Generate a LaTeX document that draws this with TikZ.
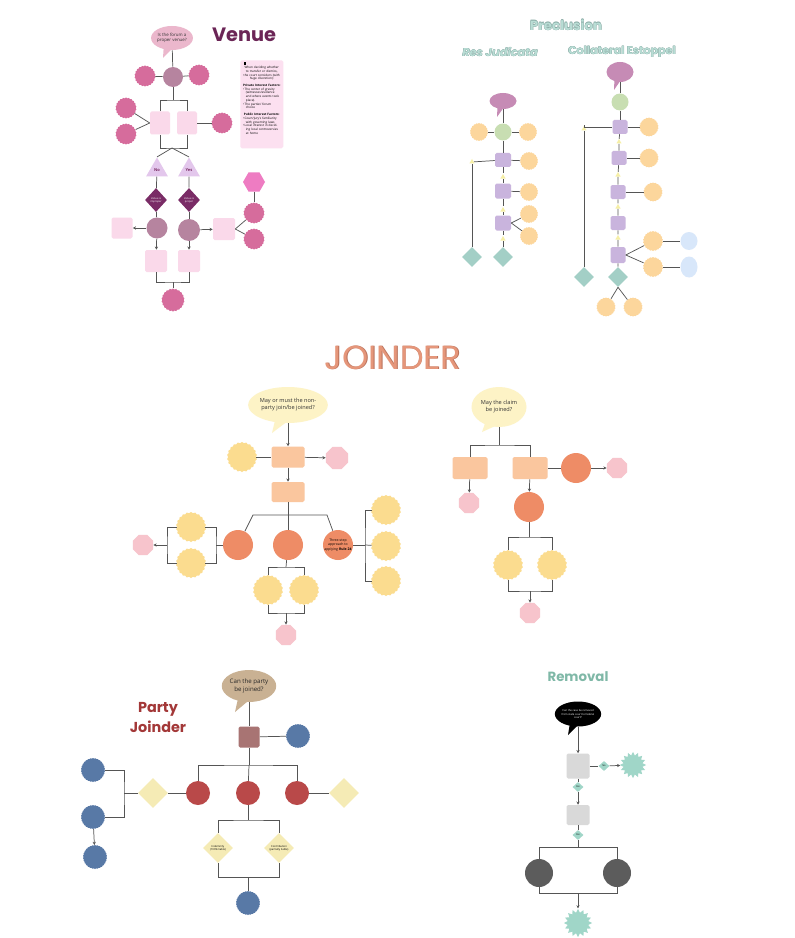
\documentclass[tikz,border=0pt]{standalone}
\usepackage{fontspec}
\setmainfont{Open Sans}
\newfontfamily\tfont{Poppins}
\usetikzlibrary{shapes.geometric,shapes.misc,calc,arrows.meta}
\definecolor{lc}{HTML}{555555}
\definecolor{vpink}{HTML}{EBB7CC}
\definecolor{vmauve}{HTML}{B6849F}
\definecolor{vburst}{HTML}{D66C9C}
\definecolor{vlight}{HTML}{FAD9EA}
\definecolor{vside}{HTML}{FCE0F0}
\definecolor{vtri}{HTML}{E3C7EC}
\definecolor{vdark}{HTML}{7A2C66}
\definecolor{vtitle}{HTML}{6B2556}
\definecolor{vhex}{HTML}{EE7CC2}
\definecolor{pbub}{HTML}{C68BB5}
\definecolor{pgreen}{HTML}{C8DEB2}
\definecolor{porange}{HTML}{FCD69C}
\definecolor{ppurple}{HTML}{C9B4DD}
\definecolor{ptri}{HTML}{F6EFA6}
\definecolor{pteal}{HTML}{A3CFC6}
\definecolor{pblue}{HTML}{D8E7FA}
\definecolor{ptitle}{HTML}{B9DDD5}
\definecolor{poutl}{HTML}{86A8A2}
\definecolor{jyel}{HTML}{FDF3C6}
\definecolor{jpeach}{HTML}{FAC69E}
\definecolor{jburst}{HTML}{FBDC8F}
\definecolor{jpink}{HTML}{F7C4CC}
\definecolor{jorange}{HTML}{EE8C66}
\definecolor{jtitle}{HTML}{E5967A}
\definecolor{jshadow}{HTML}{B8705A}
\definecolor{qtan}{HTML}{C9B193}
\definecolor{qbox}{HTML}{A87473}
\definecolor{qblue}{HTML}{5879A6}
\definecolor{qred}{HTML}{B94949}
\definecolor{qdia}{HTML}{F5EBB5}
\definecolor{qtitle}{HTML}{A33838}
\definecolor{rtitle}{HTML}{7FB8A7}
\definecolor{rgray}{HTML}{D9D9D9}
\definecolor{rteal}{HTML}{A0D6C8}
\definecolor{rdark}{HTML}{5C5C5C}
\newcommand\sbub[9]{%
  \fill[#6] (#2-0.2*#4,#3+0.2*#5) -- #7 -- (#2+0.02*#4,#3+0.42*#5) -- cycle;
  \node[ellipse, fill=#6, minimum width=#4*0.75pt, minimum height=#5*0.75pt, inner sep=0pt, align=center, #8] (#1) at (#2,#3) {#9};}
\newcommand\otext[3]{\leavevmode
  \rlap{\raisebox{0.22pt}{\color{#1}#3}}\rlap{\raisebox{-0.22pt}{\color{#1}#3}}%
  \rlap{\hspace{0.22pt}\color{#1}#3}\rlap{\hspace{-0.22pt}\color{#1}#3}{\color{#2}#3}}
\newcommand\stext[3]{\leavevmode
  \rlap{\hspace{0.45pt}\raisebox{-0.45pt}{\color{#1}#3}}{\color{#2}#3}}
\newcommand\bitem[1]{\hangindent=2.2pt\hangafter=1\noindent\textbullet\,#1\par}
\begin{document}
\begin{tikzpicture}[x=0.75pt,y=-0.75pt,
  ln/.style={draw=lc, line width=0.55pt},
  ar/.style={draw=lc, line width=0.55pt, -{Stealth[length=2.4pt,width=2.4pt]}},
  sz/.style={minimum size=#1*0.75pt},
  wd/.style={minimum width=#1*0.75pt},
  ht/.style={minimum height=#1*0.75pt},
  bx/.style={rectangle, rounded corners=1.2pt, inner sep=0.5pt, align=center},
  cir/.style={circle, inner sep=0pt, align=center},
  bur/.style={star, star points=22, star point ratio=1.08, inner sep=0pt},
  scal/.style={star, star points=30, star point ratio=1.05, inner sep=0pt},
  spk/.style={star, star points=16, star point ratio=1.35, inner sep=0pt},
  oct/.style={regular polygon, regular polygon sides=8, inner sep=0pt, align=center},
  dia/.style={diamond, inner sep=0pt, align=center},
  tri/.style={regular polygon, regular polygon sides=3, inner sep=0pt, align=center},
  hexa/.style={regular polygon, regular polygon sides=6, inner sep=0pt},
  ttl/.style={inner sep=0pt, font=\tfont\bfseries}]
\useasboundingbox (0,0) rectangle (794,938);
\fill[white] (0,0) rectangle (794,938);

% ================= VENUE =================
\node[ttl, text=vtitle, font=\tfont\bfseries\fontsize{14.5}{14.5}\selectfont] (vtitle) at (244,35) {Venue};
\sbub{vq}{172}{38}{40}{24}{vpink}{(163,58)}{font=\fontsize{3.3}{4}\selectfont, text=black!80}{Is the forum a\\proper venue?}
\node[cir, fill=vmauve, sz=20] (vc) at (173,77) {};
\node[bur, fill=vburst, sz=21] (vl) at (145,76) {};
\node[bur, fill=vburst, sz=21] (vr) at (199,75) {};
\draw[ln] (vq) -- (vc);
\draw[ln] (vl) -- (vc);
\draw[ln] (vc) -- (vr);
\coordinate (vj) at (173,100);
\node[bx, fill=vlight, wd=20, ht=23] (vb1) at (160,123) {};
\node[bx, fill=vlight, wd=20, ht=23] (vb2) at (187,123) {};
\draw[ln] (vc) -- (vj);
\draw[ln] (vb1.north) |- (vj) -| (vb2.north);
\node[bur, fill=vburst, sz=21] (vl1) at (126,108) {};
\node[bur, fill=vburst, sz=21] (vl2) at (126,134) {};
\draw[ln] (vb1.west) -- (vl1);
\draw[ln] (vb1.west) -- (vl2);
\node[bur, fill=vburst, sz=21] (vr2) at (222,123) {};
\draw[ln] (vb2) -- (vr2);
\node[bx, fill=vside, wd=43, ht=88, anchor=north west, inner sep=2pt] (vside) at (240,60) {};
\node[inner sep=0pt, anchor=north, text width=37.5*0.75pt, font=\fontsize{2.3}{2.8}\selectfont] (vsidet) at ([yshift=-1.6pt]vside.north) {%
\hspace*{1pt}\rule{1.6pt}{1.6pt}\par\vspace{0.3pt}
{\centering When deciding whether to transfer or dismiss, the court considers (with huge discretion):\par}\vspace{2.2pt}
{\centering\textbf{Private Interest Factors:}\par}
\bitem{The center of gravity (witnesses/evidence and where events took place).}
\bitem{The parties' forum choice}\vspace{2.2pt}
{\centering\textbf{Public Interest Factors:}\par}
\bitem{Court/jury's familiarity with governing laws}
\bitem{Local interest in deciding local controversies at home}};
\coordinate (vj2) at (172,148);
\draw[ln] (vb1.south) |- (vj2) -| (vb2.south);
\node[tri, fill=vtri, sz=25, font=\fontsize{3}{3}\selectfont\bfseries, text=vdark] (vno) at (157,170) {\raisebox{-2pt}{No}};
\node[tri, fill=vtri, sz=25, font=\fontsize{3}{3}\selectfont\bfseries, text=vdark] (vyes) at (189,170) {\raisebox{-2pt}{Yes}};
\draw[ln] (vj2) -- (vno.north);
\draw[ln] (vj2) -- (vyes.north);
\node[dia, fill=vdark, wd=22, ht=24, text=white, font=\fontsize{1.9}{2.2}\selectfont] (vdn) at (156,200) {Venue is\\improper};
\node[dia, fill=vdark, wd=22, ht=24, text=white, font=\fontsize{1.9}{2.2}\selectfont] (vdy) at (189,200) {Venue is\\proper};
\draw[ln] (vno) -- (vdn);
\draw[ln] (vyes) -- (vdy);
\node[cir, fill=vmauve, sz=21] (vcn) at (157,228) {};
\node[cir, fill=vmauve, sz=22] (vcy) at (189,230) {};
\draw[ln] (vdn) -- (vcn);
\draw[ln] (vdy) -- (vcy);
\node[bx, fill=vlight, wd=21, ht=21] (vbl) at (122,228) {};
\node[bx, fill=vlight, wd=22, ht=22] (vbr) at (224,229) {};
\draw[ar] (vcn) -- (vbl);
\draw[ar] (vcy) -- (vbr);
\node[hexa, fill=vhex, sz=22] (vhex) at (254,182) {};
\node[bur, fill=vburst, sz=21] (vr3) at (254,213) {};
\node[bur, fill=vburst, sz=21] (vr4) at (254,239) {};
\draw[ln] (vbr.east) -- (vr3);
\draw[ln] (vbr.east) -- (vr4);
\draw[ln] (vhex) -- (vr3);
\node[bx, fill=vlight, wd=22, ht=22] (vbn) at (156,261) {};
\node[bx, fill=vlight, wd=22, ht=22] (vby) at (189,261) {};
\draw[ar] (vcn) -- (vbn);
\draw[ar] (vcy) -- (vby);
\coordinate (vj3) at (173,282);
\draw[ln] (vbn.south) |- (vj3) -| (vby.south);
\node[bur, fill=vburst, sz=23] (vend) at (173,300) {};
\draw[ln] (vj3) -- (vend);

% ================= PRECLUSION =================
\node[ttl, font=\tfont\bfseries\fontsize{10}{10}\selectfont] (ptitle) at (566,25) {\otext{poutl}{ptitle}{Preclusion}};
\node[ttl, font=\tfont\bfseries\itshape\fontsize{8.5}{8.5}\selectfont] (rjt) at (500,52) {\otext{poutl}{ptitle}{Res Judicata}};
\node[ttl, font=\tfont\bfseries\fontsize{8.3}{8.3}\selectfont] (cet) at (622,52) {\otext{poutl}{ptitle}{Collateral Estoppel}};
% Res judicata
\sbub{rq}{503}{101}{27}{16}{pbub}{(497,117)}{}{}
\node[cir, fill=pgreen, sz=17] (rg) at (503,132) {};
\node[bur, fill=porange, sz=18] (rb1) at (479,132) {};
\node[bur, fill=porange, sz=18] (rb2) at (528,132) {};
\draw[ln] (rq) -- (rg);
\draw[ln] (rb1) -- (rg);
\draw[ln] (rg) -- (rb2);
\node[bx, fill=ppurple, wd=16, ht=14] (rx1) at (503,160) {};
\node[bur, fill=porange, sz=18] (rb3) at (529,161) {};
\node[tri, fill=ptri, sz=6] (rt0) at (472,162) {};
\node[dia, fill=pteal, wd=20, ht=20] (rd0) at (472,257) {};
\draw[ln] (rg) -- (rx1);
\draw[ln] (rx1) -- (rb3);
\draw[ln] (rx1) -- (rt0);
\draw[ln] (rt0) -- (rd0);
\node[tri, fill=ptri, sz=6] (rt1) at (503,177) {};
\node[bx, fill=ppurple, wd=16, ht=15] (rx2) at (503,191) {};
\node[bur, fill=porange, sz=18] (rb4) at (529,192) {};
\node[tri, fill=ptri, sz=6] (rt2) at (503,210) {};
\node[bx, fill=ppurple, wd=16, ht=15] (rx3) at (503,223) {};
\node[bur, fill=porange, sz=18] (rb5) at (529,214) {};
\node[bur, fill=porange, sz=18] (rb6) at (529,236) {};
\node[tri, fill=ptri, sz=6] (rt3) at (503,239) {};
\node[dia, fill=pteal, wd=20, ht=20] (rd1) at (503,257) {};
\draw[ln] (rx1) -- (rt1) -- (rx2) -- (rt2) -- (rx3) -- (rt3) -- (rd1);
\draw[ln] (rx2) -- (rb4);
\draw[ln] (rx3.east) -- (rb5);
\draw[ln] (rx3.east) -- (rb6);
% Collateral estoppel
\sbub{cq}{620}{72}{27}{20}{pbub}{(614,90)}{}{}
\node[cir, fill=pgreen, sz=17] (cg) at (620,102) {};
\node[bx, fill=ppurple, wd=15, ht=14] (cx1) at (620,127) {};
\node[bur, fill=porange, sz=19] (cb1) at (649,127) {};
\node[tri, fill=ptri, sz=6] (ct0) at (584,129) {};
\node[dia, fill=pteal, wd=20, ht=20] (cd0) at (584,277) {};
\draw[ln] (cq) -- (cg);
\draw[ln] (cg) -- (cx1);
\draw[ln] (cx1) -- (cb1);
\draw[ln] (cx1.west) -| (ct0);
\draw[ln] (ct0) -- (cd0);
\node[tri, fill=ptri, sz=6] (ct1) at (619,142) {};
\node[bx, fill=ppurple, wd=15, ht=14] (cx2) at (619,158) {};
\node[bur, fill=porange, sz=19] (cb2) at (649,158) {};
\node[tri, fill=ptri, sz=6] (ct2) at (618,175) {};
\node[bx, fill=ppurple, wd=15, ht=14] (cx3) at (618,192) {};
\node[bur, fill=porange, sz=19] (cb3) at (653,192) {};
\node[tri, fill=ptri, sz=6] (ct3) at (618,207) {};
\node[bx, fill=ppurple, wd=15, ht=14] (cx4) at (618,223) {};
\node[tri, fill=ptri, sz=6] (ct4) at (618,238) {};
\node[bx, fill=ppurple, wd=15, ht=16] (cx5) at (618,255) {};
\node[bur, fill=porange, sz=20] (cb4) at (653,241) {};
\node[bur, fill=porange, sz=20] (cb5) at (653,267) {};
\node[ellipse, fill=pblue, minimum width=17*0.75pt, minimum height=18*0.75pt, inner sep=0pt] (ce1) at (689,241) {};
\node[ellipse, fill=pblue, minimum width=17*0.75pt, minimum height=21*0.75pt, inner sep=0pt] (ce2) at (689,267) {};
\node[dia, fill=pteal, wd=20, ht=20] (cd1) at (618,277) {};
\node[bur, fill=porange, sz=19] (cb6) at (606,307) {};
\node[bur, fill=porange, sz=19] (cb7) at (633,307) {};
\draw[ln] (cx1) -- (ct1) -- (cx2) -- (ct2) -- (cx3) -- (ct3) -- (cx4) -- (ct4) -- (cx5) -- (cd1);
\draw[ln] (cx2) -- (cb2);
\draw[ln] (cx3) -- (cb3);
\draw[ln] (cx5.east) -- (cb4);
\draw[ln] (cx5.east) -- (cb5);
\draw[ln] (cb4) -- (ce1);
\draw[ln] (cb5) -- (ce2);
\draw[ln] (cd1.south) -- (cb6);
\draw[ln] (cd1.south) -- (cb7);

% ================= JOINDER =================
\node[inner sep=0pt, font=\tfont\fontsize{25}{25}\selectfont] (jtitle) at (393,358) {\stext{jshadow}{jtitle}{JOINDER}};
% non-party
\sbub{jq}{288}{405}{55}{36}{jyel}{(272,433)}{font=\fontsize{4.2}{5.2}\selectfont, text=black!80}{May or must the non-\\party join/be joined?}
\node[bx, fill=jpeach, wd=33, ht=21] (jx1) at (288,457) {};
\node[bur, fill=jburst, sz=30] (jb1) at (242,457) {};
\node[oct, fill=jpink, sz=24] (jo1) at (337,458) {};
\draw[ar] (jq) -- (jx1);
\draw[ln] (jb1) -- (jx1);
\draw[ar] (jx1) -- (jo1);
\node[bx, fill=jpeach, wd=33, ht=20] (jx2) at (288,492) {};
\draw[ar] (jx1) -- (jx2);
\node[cir, fill=jorange, sz=30] (jc1) at (238,545) {};
\node[cir, fill=jorange, sz=30] (jc2) at (288,545) {};
\node[cir, fill=jorange, sz=30, font=\fontsize{2.6}{3.1}\selectfont] (jc3) at (338,545) {Three-step\\approach to\\applying \textbf{Rule 24}};
\coordinate (jj1) at (288,515);
\coordinate (jja) at (253,515);
\coordinate (jjb) at (327,515);
\draw[ln] (jx2) -- (jj1);
\draw[ln] (jc1) -- (jja) -- (jjb) -- (jc3);
\draw[ln] (jj1) -- (jc2);
\node[bur, fill=jburst, sz=30] (jb2) at (191,527) {};
\node[bur, fill=jburst, sz=30] (jb3) at (191,563) {};
\coordinate (jk1) at (216,545);
\draw[ln] (jc1) -- (jk1);
\draw[ln] (jb2.east) -| (jk1) |- (jb3.east);
\coordinate (jk2) at (167,545);
\node[oct, fill=jpink, sz=22] (jo2) at (143,545) {};
\draw[ln] (jb2.west) -| (jk2) |- (jb3.west);
\draw[ar] (jk2) -- (jo2);
\coordinate (jk3) at (286,567);
\draw[ln] (jc2) -- (jk3);
\node[bur, fill=jburst, sz=30] (jb4) at (268,590) {};
\node[bur, fill=jburst, sz=30] (jb5) at (304,590) {};
\draw[ln] (jb4.north) |- (jk3) -| (jb5.north);
\coordinate (jk4) at (286,613);
\draw[ln] (jb4.south) |- (jk4) -| (jb5.south);
\node[oct, fill=jpink, sz=22] (jo3) at (286,635) {};
\draw[ar] (jk4) -- (jo3);
\coordinate (jk5) at (365,545);
\draw[ln] (jc3) -- (jk5);
\node[bur, fill=jburst, sz=30] (jb6) at (386,510) {};
\node[bur, fill=jburst, sz=30] (jb7) at (386,546) {};
\node[bur, fill=jburst, sz=30] (jb8) at (386,581) {};
\draw[ln] (jb6.west) -| (jk5) |- (jb8.west);
\draw[ln] (jk5) -- (jb7);
% claim
\sbub{kq}{499}{407}{55}{40}{jyel}{(482,432)}{font=\fontsize{4.2}{5.2}\selectfont, text=black!80}{May the claim\\be joined?}
\coordinate (kk1) at (499,445);
\node[bx, fill=jpeach, wd=35, ht=22] (kx1) at (470,468) {};
\node[bx, fill=jpeach, wd=35, ht=22] (kx2) at (530,468) {};
\draw[ln] (kq) -- (kk1);
\draw[ln] (kx1.north) |- (kk1) -| (kx2.north);
\node[oct, fill=jpink, sz=22] (ko1) at (469,503) {};
\draw[ar] (kx1) -- (ko1);
\node[cir, fill=jorange, sz=30] (kc1) at (576,468) {};
\node[oct, fill=jpink, sz=22] (ko2) at (617,468) {};
\draw[ln] (kx2) -- (kc1);
\draw[ar] (kc1) -- (ko2);
\node[cir, fill=jorange, sz=30] (kc2) at (529,507) {};
\draw[ar] (kx2) -- (kc2);
\coordinate (kk2) at (529,537);
\draw[ln] (kc2) -- (kk2);
\node[bur, fill=jburst, sz=30] (kb1) at (508,565) {};
\node[bur, fill=jburst, sz=30] (kb2) at (552,565) {};
\draw[ln] (kb1.north) |- (kk2) -| (kb2.north);
\coordinate (kk3) at (530,591);
\draw[ln] (kb1.south) |- (kk3) -| (kb2.south);
\node[oct, fill=jpink, sz=22] (ko3) at (530,613) {};
\draw[ar] (kk3) -- (ko3);

% ================= PARTY JOINDER =================
\node[ttl, text=qtitle, font=\tfont\bfseries\fontsize{10.8}{15}\selectfont, align=center] (qtitle) at (158,717) {Party\\Joinder};
\sbub{pq}{249}{686}{48}{32}{qtan}{(235,712)}{font=\fontsize{4.6}{5.6}\selectfont, text=black!85}{Can the party\\be joined?}
\node[bx, fill=qbox, wd=21, ht=21] (px) at (249,737) {};
\node[scal, fill=qblue, sz=24] (pbl1) at (298,736) {};
\draw[ln] (pq) -- (px);
\draw[ln] (px) -- (pbl1);
\coordinate (pk1) at (249,765);
\node[cir, fill=qred, sz=24] (pc1) at (198,793) {};
\node[cir, fill=qred, sz=24] (pc2) at (248,793) {};
\node[cir, fill=qred, sz=24] (pc3) at (297,793) {};
\draw[ln] (px) -- (pk1);
\draw[ln] (pc1.north) |- (pk1) -| (pc3.north);
\draw[ln] (pk1) -- (pc2);
\node[dia, fill=qdia, wd=30, ht=30] (pd1) at (153,793) {};
\node[dia, fill=qdia, wd=30, ht=30] (pd2) at (344,793) {};
\draw[ln] (pd1) -- (pc1);
\draw[ln] (pc3) -- (pd2);
\coordinate (pk2) at (124,793);
\node[scal, fill=qblue, sz=24] (pbl2) at (93,770) {};
\node[scal, fill=qblue, sz=24] (pbl3) at (93,817) {};
\node[scal, fill=qblue, sz=24] (pbl4) at (95,857) {};
\draw[ln] (pd1) -- (pk2);
\draw[ln] (pbl2.east) -| (pk2) |- (pbl3.east);
\draw[ar] (pbl3) -- (pbl4);
\coordinate (pk3) at (248,820);
\node[dia, fill=qdia, wd=30, ht=30, font=\fontsize{2}{2.4}\selectfont] (pd3) at (218,848) {Indemnity\\(100\% liable)};
\node[dia, fill=qdia, wd=30, ht=30, font=\fontsize{2}{2.4}\selectfont] (pd4) at (279,848) {Contribution\\(partially liable)};
\draw[ln] (pc2) -- (pk3);
\draw[ln] (pd3.north) |- (pk3) -| (pd4.north);
\coordinate (pk4) at (248,877);
\node[scal, fill=qblue, sz=24] (pbl5) at (248,903) {};
\draw[ln] (pd3.south) |- (pk4) -| (pd4.south);
\draw[ln] (pk4) -- (pbl5);

% ================= REMOVAL =================
\node[ttl, text=rtitle, font=\tfont\bfseries\fontsize{10}{10}\selectfont] (mtitle) at (578,677) {Removal};
\sbub{mq}{578}{714}{37}{25}{black}{(568,735)}{font=\fontsize{2}{2.5}\selectfont, text=white}{Can the case be removed\\from state court to federal\\court?}
\node[bx, fill=rgray, wd=23, ht=25] (mx1) at (578,766) {};
\draw[ar] (mq) -- (mx1);
\node[dia, fill=rteal, wd=11, ht=10, font=\fontsize{1.8}{2}\selectfont] (md1) at (604,766) {No};
\node[spk, fill=rteal, sz=26] (mb1) at (633,765) {};
\draw[ln] (mx1) -- (md1);
\draw[ar] (md1) -- (mb1);
\node[dia, fill=rteal, wd=11, ht=10, font=\fontsize{1.8}{2}\selectfont] (md2) at (578,787) {Yes};
\node[bx, fill=rgray, wd=23, ht=20] (mx2) at (578,815) {};
\draw[ln] (mx1) -- (md2);
\draw[ar] (md2) -- (mx2);
\node[dia, fill=rteal, wd=11, ht=10, font=\fontsize{1.8}{2}\selectfont] (md3) at (578,835) {Yes};
\draw[ln] (mx2) -- (md3);
\coordinate (mk1) at (578,847);
\node[cir, fill=rdark, sz=28] (mc1) at (539,873) {};
\node[cir, fill=rdark, sz=28] (mc2) at (617,873) {};
\draw[ln] (md3) -- (mk1);
\draw[ln] (mc1.north) |- (mk1) -| (mc2.north);
\coordinate (mk2) at (578,893);
\node[spk, fill=rteal, sz=28] (mb2) at (578,923) {};
\draw[ln] (mc1.south) |- (mk2) -| (mc2.south);
\draw[ar] (mk2) -- (mb2);
\end{tikzpicture}
\end{document}
